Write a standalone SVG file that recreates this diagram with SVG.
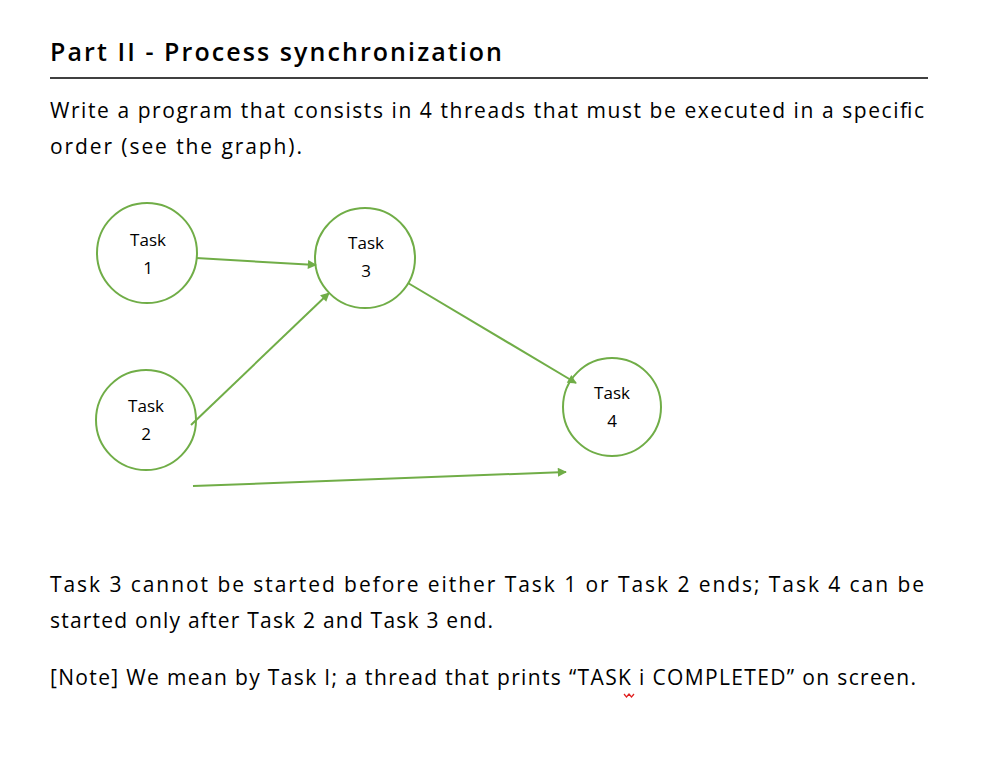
<svg xmlns="http://www.w3.org/2000/svg" width="1008" height="758" viewBox="0 0 1008 758">
<style>
text{font-family:"Open Sans","Noto Sans",sans-serif;fill:#000}
.b{font-size:21px}
.n{font-size:17px;text-anchor:middle}
circle{fill:#fff;stroke:#70AD47;stroke-width:2}
.c line{stroke:#70AD47;stroke-width:2;marker-end:url(#a)}
</style>
<defs><marker id="a" viewBox="0 0 10 10" refX="9" refY="5" markerWidth="11" markerHeight="9" orient="auto" markerUnits="userSpaceOnUse"><path d="M0,0L10,5L0,10z" fill="#70AD47"/></marker></defs>
<rect width="1008" height="758" fill="#fff"/>
<text x="50" y="61" font-size="25" font-weight="600" textLength="452" lengthAdjust="spacing">Part II -  Process synchronization</text>
<line x1="50" y1="78" x2="928" y2="78" stroke="#000" stroke-width="1.5"/>
<text class="b" x="50" y="118" textLength="874" lengthAdjust="spacing">Write a program that consists in 4 threads that must be executed in a specific</text>
<text class="b" x="50" y="154" textLength="252" lengthAdjust="spacing">order (see the graph).</text>
<g id="task1"><circle cx="147" cy="253" r="50"/><text class="n" x="148" y="246">Task</text><text class="n" x="148" y="274">1</text></g>
<g id="task3"><circle cx="365" cy="258" r="50"/><text class="n" x="366" y="249">Task</text><text class="n" x="366" y="277">3</text></g>
<g id="task2"><circle cx="146" cy="420" r="50"/><text class="n" x="146" y="412">Task</text><text class="n" x="146" y="440">2</text></g>
<g id="task4"><circle cx="612" cy="407" r="49"/><text class="n" x="612" y="399">Task</text><text class="n" x="612" y="427">4</text></g>
<g class="c">
<line x1="196" y1="258" x2="316" y2="265"/>
<line x1="191" y1="425" x2="329" y2="293"/>
<line x1="408" y1="283" x2="576" y2="383"/>
<line x1="193" y1="486" x2="566" y2="472"/>
</g>
<text class="b" x="50" y="592" textLength="874" lengthAdjust="spacing">Task 3 cannot be started before either Task 1 or Task 2 ends; Task 4 can be</text>
<text class="b" x="50" y="628" textLength="443" lengthAdjust="spacing">started only after Task 2 and Task 3 end.</text>
<text class="b" x="50" y="685" textLength="866" lengthAdjust="spacing">[Note] We mean by Task I; a thread that prints “TASK i COMPLETED” on screen.</text>
<path d="M624,694 l2.5,3 l2.5,-3 l2.5,3 l2.5,-3" fill="none" stroke="#e02020" stroke-width="1.2"/>
</svg>
